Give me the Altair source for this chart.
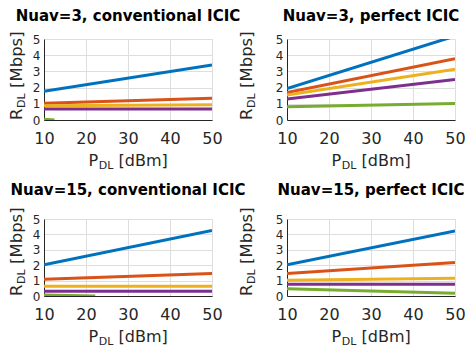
import altair as alt
import pandas as pd

FONT = "DejaVu Sans"
TXT = "#262626"
GRID = "#dedede"

series = ["s1", "s2", "s3", "s4", "s5"]
colors = ["#0072BD", "#D95319", "#EDB120", "#7E2F8E", "#77AC30"]
titles = ["Nuav=3, conventional ICIC", "Nuav=3, perfect ICIC",
          "Nuav=15, conventional ICIC", "Nuav=15, perfect ICIC"]
x_ticks = [10, 20, 30, 40, 50]
y_ticks = [0, 1, 2, 3, 4, 5]

# P_DL [dBm] points for each series, per panel
x_p1 = {"s1": [10, 50], "s2": [10, 50], "s3": [10, 50], "s4": [10, 50], "s5": [10, 12.5]}
y_p1 = {"s1": [1.78, 3.40], "s2": [1.04, 1.34], "s3": [0.88, 0.94], "s4": [0.68, 0.68], "s5": [0.05, 0.0]}

x_p2 = {"s1": [10, 50], "s2": [10, 50], "s3": [10, 50], "s4": [10, 50], "s5": [10, 50]}
y_p2 = {"s1": [1.94, 5.18], "s2": [1.70, 3.78], "s3": [1.54, 3.14], "s4": [1.30, 2.50], "s5": [0.82, 1.02]}

x_p3 = {"s1": [10, 50], "s2": [10, 50], "s3": [10, 50], "s4": [10, 50], "s5": [10, 22.2]}
y_p3 = {"s1": [2.02, 4.26], "s2": [1.09, 1.46], "s3": [0.64, 0.64], "s4": [0.31, 0.31], "s5": [0.07, 0.0]}

x_p4 = {"s1": [10, 50], "s2": [10, 50], "s3": [10, 50], "s4": [10, 50], "s5": [10, 50]}
y_p4 = {"s1": [2.02, 4.22], "s2": [1.46, 2.18], "s3": [1.03, 1.15], "s4": [0.76, 0.76], "s5": [0.47, 0.18]}

panels_x = [x_p1, x_p2, x_p3, x_p4]
panels_y = [y_p1, y_p2, y_p3, y_p4]

widths = [168, 168, 168, 168]
heights = [81, 81, 77, 77]
ytitle_x = [-22, -35, -22, -35]
title_y = [-18, -18, -24, -24]

one = pd.DataFrame({"k": [0]})


def txt(text, x, y, size, angle=0, align="left", weight="normal", color=TXT):
    kw = dict(text=text, font=FONT, fontSize=size, align=align,
              baseline="alphabetic", color=color, fontWeight=weight)
    if angle:
        kw["angle"] = angle
    return alt.Chart(one).mark_text(**kw).encode(x=alt.value(x), y=alt.value(y))


def panel(i):
    rows = []
    for s in series:
        for xv, yv in zip(panels_x[i][s], panels_y[i][s]):
            rows.append({"s": s, "P": xv, "R": yv})
    df = pd.DataFrame(rows)
    w, h = widths[i], heights[i]
    lines = alt.Chart(df).mark_line(strokeWidth=3, clip=True).encode(
        x=alt.X("P:Q", scale=alt.Scale(domain=[10, 50], nice=False),
                axis=alt.Axis(values=x_ticks, title=None, labelFont=FONT,
                              labelFontSize=16, labelColor=TXT, labelPadding=10,
                              ticks=False, domainColor=TXT, gridColor=GRID,
                              labelFlush=False)),
        y=alt.Y("R:Q", scale=alt.Scale(domain=[0, 5], nice=False),
                axis=alt.Axis(values=y_ticks, title=None, labelFont=FONT,
                              labelFontSize=12, labelColor=TXT, labelPadding=4,
                              ticks=False, domainColor=TXT, gridColor=GRID,
                              labelFlush=False)),
        color=alt.Color("s:N", scale=alt.Scale(domain=series, range=colors), legend=None),
        detail="s:N",
    )
    x0 = w / 2 - 39.5
    xt = [
        txt("P", x0, h + 46, 16),
        txt("DL", x0 + 10.2, h + 49, 11),
        txt("[dBm]", x0 + 30, h + 46, 16),
    ]
    bx = ytitle_x[i]
    yt = [
        txt("R", bx, h, 16.5, 270),
        txt("DL", bx + 3.4, h - 12, 11, 270),
        txt("[Mbps]", bx, h - 32, 16.5, 270),
    ]
    tt = txt(titles[i], w / 2, title_y[i], 15, align="center", weight="bold",
             color="#000000")
    return alt.layer(lines, *xt, *yt, tt).properties(width=w, height=h)


chart = alt.concat(
    *[panel(i) for i in range(4)], columns=2,
    spacing=alt.RowColnumber(row=99, column=75), bounds="flush",
).properties(padding={"left": 0, "top": 0, "right": 0, "bottom": 0}
).configure_view(stroke=GRID)

chart.save("out.html", embed_options={"renderer": "svg", "actions": False})
